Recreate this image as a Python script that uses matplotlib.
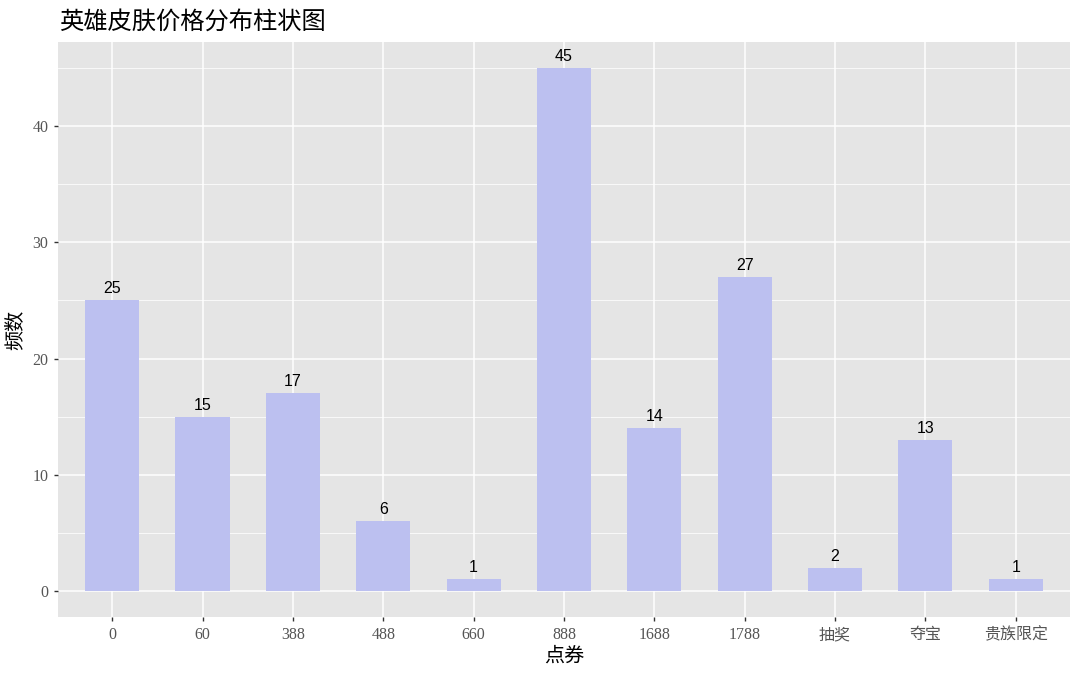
import numpy as np
import matplotlib
matplotlib.use('Agg')
import matplotlib.pyplot as plt
from matplotlib.ticker import MultipleLocator

plt.rcParams['font.family'] = ['Liberation Serif', 'Noto Sans CJK SC', 'DejaVu Sans']

# price categories and counts
prices = ['0', '60', '388', '488', '660', '888', '1688', '1788', '抽奖', '夺宝', '贵族限定']
counts = [25, 15, 17, 6, 1, 45, 14, 27, 2, 13, 1]

fig = plt.figure(figsize=(10.8, 6.75), dpi=100)
ax = fig.add_axes([0.0537, 0.0856, 0.937, 0.8524])
ax.set_facecolor('#E5E5E5')

x = np.arange(len(prices))
ax.bar(x, counts, width=0.6, color='#BCC0F0', zorder=3)
for xi, c in zip(x, counts):
    ax.text(xi, c + 0.35, str(c), ha='center', va='bottom', fontsize=11.5,
            family=['Liberation Sans', 'DejaVu Sans'], color='black', zorder=4)

ax.set_xlim(-0.6, len(prices) - 1 + 0.6)
ax.set_ylim(-2.25, 47.25)
ax.set_xticks(x)
ax.set_xticklabels(prices)
ax.yaxis.set_major_locator(MultipleLocator(10))
ax.yaxis.set_minor_locator(MultipleLocator(5))
ax.grid(which='major', color='white', linewidth=1.1, zorder=0)
ax.grid(which='minor', axis='y', color='white', linewidth=0.55, zorder=0)
ax.set_axisbelow(True)
for s in ax.spines.values():
    s.set_visible(False)
ax.tick_params(which='major', length=3, width=1, color='#333333', labelcolor='#555555',
               labelsize=11.5, pad=4)
ax.tick_params(which='minor', length=0)

ax.set_xlabel('点券', fontsize=14.5, family=['Noto Sans CJK SC'], labelpad=2)
ax.set_ylabel('频数', fontsize=14.5, family=['Noto Sans CJK SC'], labelpad=5)
fig.text(0.055, 0.968, '英雄皮肤价格分布柱状图', fontsize=17.5, family=['Noto Sans CJK SC'],
         ha='left', va='center')

fig.savefig('out.png', dpi=100)
